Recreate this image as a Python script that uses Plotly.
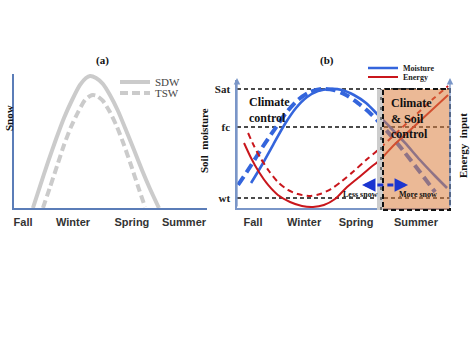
import plotly.graph_objects as go

W, H = 474, 355


def px(x):
    return x / W


def py(y):
    return 1 - y / H


# ---------------- data ----------------
season_labels = ["Fall", "Winter", "Spring", "Summer"]
a_season_pos = [4.7, 30.6, 61.1, 88.1]
b_season_pos = [7.5, 31.5, 55.9, 84.0]

# panel (a): snow (relative units, time axis 0-100)
sdw_x = [9.8, 13.5, 17.6, 21.8, 25.9, 30.1, 34.2, 37.3, 39.4, 42.5, 46.1, 49.7, 53.9, 58.0, 62.2, 66.3, 70.5, 75.1]
sdw_y = [0, 16.4, 34.3, 51.5, 67.2, 80.6, 91.8, 97.0, 98.5, 97.0, 92.5, 84.3, 72.4, 58.2, 43.3, 28.4, 14.2, 0]
tsw_x = [15.0, 18.7, 22.3, 25.9, 29.5, 33.2, 36.8, 39.4, 40.9, 43.0, 46.1, 49.7, 53.4, 57.0, 60.6, 64.2, 67.9]
tsw_y = [0, 15.7, 31.3, 47.0, 60.4, 71.6, 80.6, 83.6, 84.3, 83.6, 79.9, 71.6, 60.4, 47.0, 32.1, 16.4, 0.7]

# panel (b): soil moisture / energy
moist_x = [6.6, 11.7, 16.9, 22.5, 27.7, 32.9, 38.0, 43.7, 49.3, 54.9, 60.6, 66.2, 71.8, 78.9, 85.9, 93.0, 98.6]
moist_y = [19.5, 33.6, 49.2, 65.6, 78.1, 86.7, 91.4, 93.0, 92.2, 88.3, 82.0, 72.7, 63.3, 50.8, 37.5, 25.0, 15.6]
moist_d_x = [0.5, 6.1, 11.7, 17.4, 23.0, 28.6, 34.3, 39.9, 45.5, 51.2, 56.8, 62.4, 67.1, 72.8, 78.9, 85.9, 93.0]
moist_d_y = [18.0, 32.0, 46.9, 60.9, 74.2, 84.4, 90.6, 93.0, 92.2, 88.3, 82.0, 74.2, 66.4, 55.5, 43.0, 28.1, 12.5]
energy_x = [3.3, 6.6, 10.3, 14.6, 19.2, 24.9, 30.5, 35.7, 40.8, 46.0, 51.2, 56.8, 62.4, 67.1, 72.8, 79.3, 85.9, 92.5, 99.1]
energy_y = [50.8, 39.1, 28.1, 18.0, 10.2, 4.7, 1.6, 0.8, 2.3, 7.0, 15.6, 23.4, 31.3, 37.5, 47.7, 57.8, 68.0, 78.1, 88.3]
energy_d_x = [5.2, 8.0, 11.3, 15.0, 19.2, 23.9, 28.6, 33.8, 39.0, 44.1, 49.3, 54.9, 60.6, 66.2, 72.8, 79.3, 85.9, 92.5, 99.1]
energy_d_y = [58.6, 48.4, 38.3, 28.9, 20.3, 14.1, 10.9, 9.4, 10.9, 14.8, 21.1, 28.9, 37.5, 45.3, 55.5, 65.6, 75.8, 85.9, 95.3]

level_names = ["wt", "fc", "Sat"]
level_vals = [7.8, 63.3, 93.0]

snow_arrow_x = [58.7, 80.3]
snow_arrow_y = 18.0

# ---------------- styles ----------------
GREY = "#cbcbcb"
BLUE = "#3465dc"
RED = "#c9161c"
AXIS_A = "#5b7db8"
AXIS_B = "#7a96c8"
ARROW_BLUE = "#1a35d0"
SERIF = "Liberation Serif"
SANS = "Liberation Sans"

fig = go.Figure()

fig.add_trace(go.Scatter(x=sdw_x, y=sdw_y, mode="lines", name="SDW",
                         line=dict(color=GREY, width=4, shape="spline", smoothing=0.6),
                         xaxis="x", yaxis="y", legend="legend"))
fig.add_trace(go.Scatter(x=tsw_x, y=tsw_y, mode="lines", name="TSW",
                         line=dict(color=GREY, width=4, dash="8px,4px", shape="spline", smoothing=0.6),
                         xaxis="x", yaxis="y", legend="legend2"))

fig.add_trace(go.Scatter(x=moist_x, y=moist_y, mode="lines", name="<b>Moisture</b>",
                         line=dict(color=BLUE, width=2.6, shape="spline", smoothing=0.8),
                         xaxis="x2", yaxis="y2", legend="legend3"))
fig.add_trace(go.Scatter(x=moist_d_x, y=moist_d_y, mode="lines", showlegend=False,
                         line=dict(color=BLUE, width=4, dash="10px,5px", shape="spline", smoothing=0.8),
                         xaxis="x2", yaxis="y2"))
fig.add_trace(go.Scatter(x=energy_x, y=energy_y, mode="lines", name="<b>Energy</b>",
                         line=dict(color=RED, width=2, shape="spline", smoothing=0.8),
                         xaxis="x2", yaxis="y2", legend="legend4"))
fig.add_trace(go.Scatter(x=energy_d_x, y=energy_d_y, mode="lines", showlegend=False,
                         line=dict(color=RED, width=2, dash="6px,4px", shape="spline", smoothing=0.8),
                         xaxis="x2", yaxis="y2"))

tickfont_sans = dict(family=SANS, size=11, color="#333333")

shapes = []
for v in level_vals:
    shapes.append(dict(type="line", xref="x2", yref="y2", x0=0, x1=100, y0=v, y1=v,
                       line=dict(color="#111111", width=1.5, dash="4px,3px"), layer="below"))
# grey strip
shapes.append(dict(type="rect", xref="paper", yref="paper", x0=px(377), x1=px(383), y0=py(210), y1=py(89),
                   fillcolor="#cdcdcd", line=dict(width=0), layer="above"))
shapes.append(dict(type="line", xref="paper", yref="paper", x0=px(381), x1=px(381), y0=py(210), y1=py(89),
                   line=dict(color="#555555", width=1.5, dash="3px,7px"), layer="above"))
# shaded box
shapes.append(dict(type="rect", xref="paper", yref="paper", x0=px(383), x1=px(450), y0=py(210), y1=py(89),
                   fillcolor="rgba(219,128,64,0.55)", line=dict(color="#111111", width=2, dash="5px,3px"),
                   layer="above"))
# double arrow shaft
shapes.append(dict(type="line", xref="x2", yref="y2", x0=snow_arrow_x[0] + 2.5, x1=snow_arrow_x[1] - 2.5,
                   y0=snow_arrow_y, y1=snow_arrow_y,
                   line=dict(color=ARROW_BLUE, width=3, dash="6px,4px"), layer="above"))

ann = []


def text(x, y, t, size=11, family=SERIF, color="#111111", angle=0, align="center", xanchor="center"):
    ann.append(dict(x=px(x), y=py(y), xref="paper", yref="paper", text=t, showarrow=False,
                    font=dict(family=family, size=size, color=color), textangle=angle,
                    align=align, xanchor=xanchor, yanchor="middle"))


text(102, 60, "<b>(a)</b>", 11)
text(327, 60, "<b>(b)</b>", 11)
text(9, 118, "<b>Snow</b>", 11, angle=-90)
text(204, 141, "<b>Soil  moisture</b>", 11, angle=-90)
text(463, 146, "<b>Energy  input</b>", 11, angle=-90)
text(247, 110, "<b>Climate<br>control</b>", 12, align="left", xanchor="left")
text(389, 118, "<b>Climate<br>& Soil<br>control</b>", 12, align="left", xanchor="left")
text(360, 194, "<b>Less snow</b>", 8)
text(418, 194, "<b>More snow</b>", 8)

# axis arrows (panel b)
for xx in (237, 450):
    ann.append(dict(x=px(xx), y=py(78), xref="paper", yref="paper", ax=0, ay=130, showarrow=True,
                    arrowhead=2, arrowsize=1, arrowwidth=1.3, arrowcolor=AXIS_B, text=""))
# double arrow heads
ann.append(dict(x=snow_arrow_x[0], y=snow_arrow_y, xref="x2", yref="y2", ax=9, ay=0, showarrow=True,
                arrowhead=2, arrowsize=0.9, arrowwidth=3, arrowcolor=ARROW_BLUE, text=""))
ann.append(dict(x=snow_arrow_x[1], y=snow_arrow_y, xref="x2", yref="y2", ax=-9, ay=0, showarrow=True,
                arrowhead=2, arrowsize=0.9, arrowwidth=3, arrowcolor=ARROW_BLUE, text=""))


def leg(x, y, size, color):
    return dict(x=px(x), y=py(y), xanchor="left", yanchor="middle", bgcolor="rgba(0,0,0,0)",
                font=dict(family=SERIF, size=size, color=color), itemwidth=30)


fig.update_layout(
    width=W, height=H, margin=dict(l=0, r=0, t=0, b=0),
    paper_bgcolor="white", plot_bgcolor="rgba(0,0,0,0)",
    xaxis=dict(domain=[px(14), px(207)], range=[0, 100], showline=True, linecolor=AXIS_A, linewidth=1.5,
               showgrid=False, zeroline=False, tickvals=a_season_pos,
               ticktext=["<b>%s</b>" % s for s in season_labels], tickfont=tickfont_sans,
               ticks="outside", ticklen=3, tickcolor="rgba(0,0,0,0)"),
    yaxis=dict(domain=[py(208), py(74)], range=[0, 100], showline=True, linecolor=AXIS_A, linewidth=1.5,
               showgrid=False, zeroline=False, showticklabels=False, ticks=""),
    xaxis2=dict(domain=[px(237), px(450)], range=[0, 100], showline=True, linecolor=AXIS_B, linewidth=1.5,
                showgrid=False, zeroline=False, tickvals=b_season_pos,
                ticktext=["<b>%s</b>" % s for s in season_labels], tickfont=tickfont_sans,
                ticks="outside", ticklen=3, tickcolor="rgba(0,0,0,0)", anchor="y2"),
    yaxis2=dict(domain=[py(208), py(80)], range=[0, 100], showline=True, linecolor=AXIS_B, linewidth=1.5,
                showgrid=False, zeroline=False, tickvals=level_vals,
                ticktext=["<b>%s</b>" % s for s in level_names],
                tickfont=dict(family=SERIF, size=11, color="#222222"),
                ticks="outside", ticklen=3, tickcolor="rgba(0,0,0,0)", anchor="x2"),
    legend=leg(115, 82, 11, "#444444"),
    legend2=leg(115, 93, 11, "#444444"),
    legend3=leg(363, 68, 8, "#222222"),
    legend4=leg(363, 77, 8, "#222222"),
    shapes=shapes, annotations=ann, showlegend=True,
)

fig.write_html("out.html")
